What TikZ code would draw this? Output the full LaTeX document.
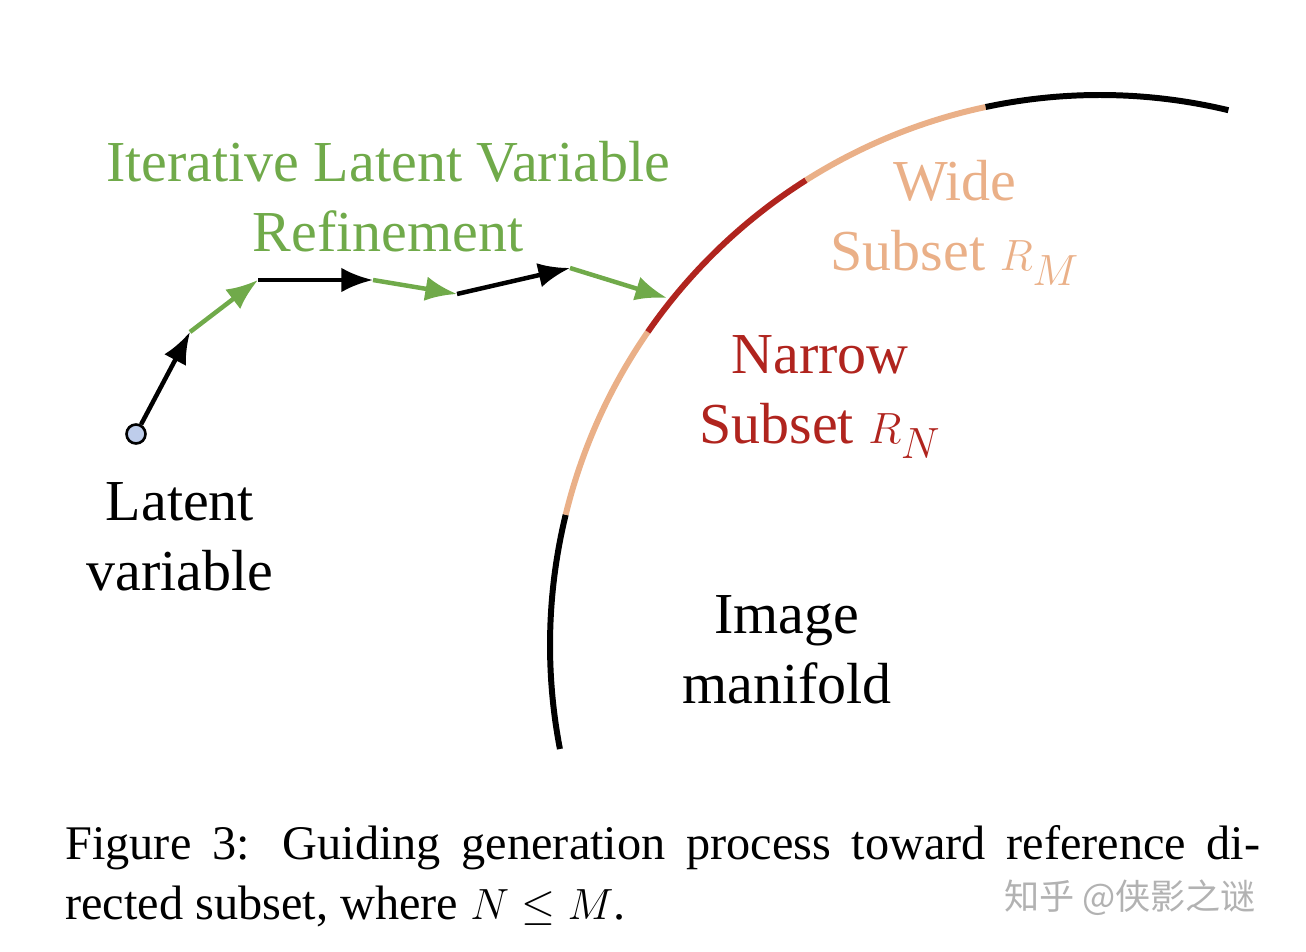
\documentclass[tikz,border=0pt]{standalone}
\usepackage{fontspec}
\setmainfont{Liberation Serif}
\newfontfamily\cjk{Noto Sans CJK SC}
\usetikzlibrary{arrows.meta}
\definecolor{refgreen}{RGB}{112,170,74}
\definecolor{narrowred}{RGB}{176,36,30}
\definecolor{widepeach}{RGB}{234,176,136}
\begin{document}
\begin{tikzpicture}
		[
		x=0.02cm, y=-0.02cm, font=\fontsize{33}{40}\selectfont,
		move/.style={line width=4.5pt*0.567, -{Latex[length=18pt,width=14pt]}},
		manifold/.style={line width=6pt*0.567},
		label/.style={align=center}
		]
		
		%Rahmen
		\useasboundingbox (0,0) rectangle (1306,952);
		
		%Mannigfaltigkeit
		\coordinate (c) at (1100,645);
		\draw[manifold, black] ([shift={(-190.9:550)}]c) arc[start angle=-190.9, end angle=-166.3, radius=550];
		\draw[manifold, widepeach] ([shift={(-166.3:550)}]c) arc[start angle=-166.3, end angle=-145.3, radius=550];
		\draw[manifold, narrowred] ([shift={(-145.3:550)}]c) arc[start angle=-145.3, end angle=-122.3, radius=550];
		\draw[manifold, widepeach] ([shift={(-122.3:550)}]c) arc[start angle=-122.3, end angle=-102, radius=550];
		\draw[manifold, black] ([shift={(-102:550)}]c) arc[start angle=-102, end angle=-76.5, radius=550];
		
		%Schritte
		\coordinate (p1) at (190,332);
		\coordinate (p2) at (258,280);
		\coordinate (p3) at (373,280);
		\coordinate (p4) at (457,294);
		\coordinate (p5) at (570,268);
		\coordinate (p6) at (667,298);
		\node[circle, draw, fill={rgb,255:red,190;green,205;blue,235}, line width=1.5pt, inner sep=0pt, minimum size=0.38cm] (z) at (136,434) {};
		\draw[move] (z) -- (p1);
		\draw[move, refgreen] (p1) -- (p2);
		\draw[move] (p2) -- (p3);
		\draw[move, refgreen] (p3) -- (p4);
		\draw[move] (p4) -- (p5);
		\draw[move, refgreen] (p5) -- (p6);
		
		%Beschriftungen
		\node[label, text=refgreen] (iter) at (388,197) {Iterative Latent Variable\\Refinement};
		\node[label] (latent) at (180,537) {Latent\\variable};
		\node[label, text=widepeach] (wide) at (955,223) {Wide\\Subset $R_M$};
		\node[label, text=narrowred] (narrow) at (820,397) {Narrow\\Subset $R_N$};
		\node[label] (image) at (787,650) {Image\\manifold};
		
		%Bildunterschrift
		\node[anchor=north west, inner sep=0pt, text width=1195*0.02cm, align=justify, font=\fontsize{27.5}{34}\selectfont] (cap) at (65,825) {Figure 3: Guiding generation process toward reference di-\linebreak rected subset, where $N\leq M$.};
		\node[text=gray!60, font=\cjk\fontsize{20}{24}\selectfont] (mark) at (1130,898) {知乎 @侠影之谜};
		
	\end{tikzpicture}
\end{document}
